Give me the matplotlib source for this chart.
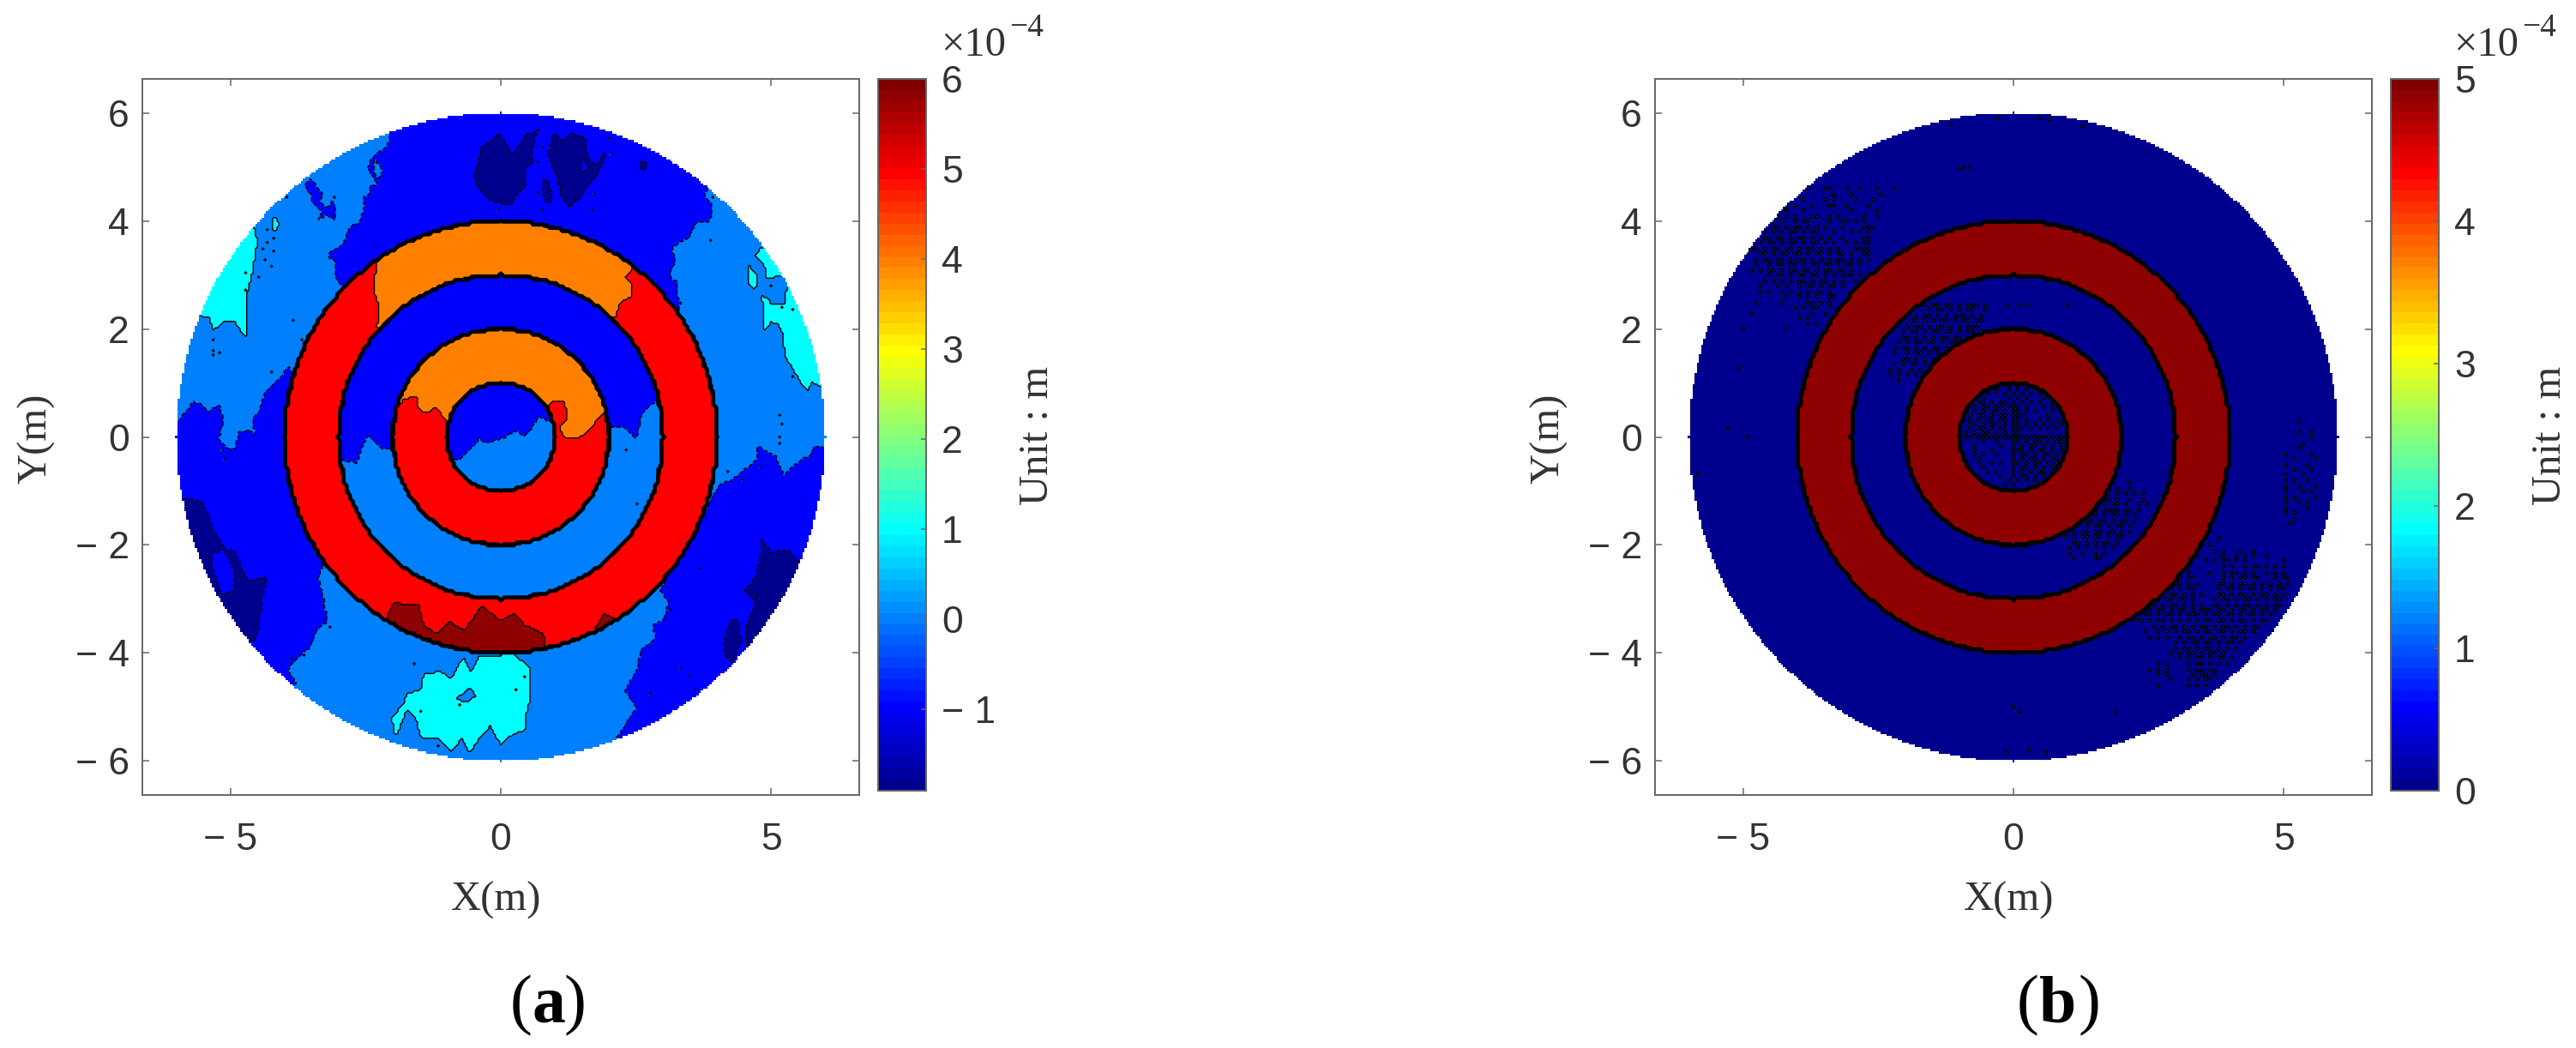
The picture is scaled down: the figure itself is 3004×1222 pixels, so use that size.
import numpy as np
import matplotlib
matplotlib.use('Agg')
import matplotlib.pyplot as plt
from matplotlib.colors import ListedColormap
from matplotlib.path import Path

W, H = 3004, 1222
dark = '#333333'
edge = '#666666'

# ticks
xticks = [-5, 0, 5]
yticks = [-6, -4, -2, 0, 2, 4, 6]
lim = 6.63
cbar_ticks_a = [-1, 0, 1, 2, 3, 4, 5, 6]
cbar_ticks_b = [0, 1, 2, 3, 4, 5]
clim_a = (-1.91, 6)
clim_b = (0, 5)

# levels of the flat zones, unit 1e-4 m
val_navy, val_blue, val_mid, val_cyan, val_orange, val_red, val_dark = -1.85, -1, 0, 1, 4, 5, 5.8
b_low, b_high = 0.05, 4.85

# panel (a), regions (x, y in metres)
top_blue = [(-2.04, 5.60), (-2.09, 5.41), (-2.30, 5.23), (-2.41, 5.15), (-2.46, 4.96), (-2.35, 4.80), (-2.27, 4.64),
            (-2.41, 4.64), (-2.43, 4.51), (-2.56, 4.43), (-2.51, 4.27), (-2.59, 4.06), (-2.62, 3.96), (-2.78, 3.90),
            (-2.86, 3.72), (-2.94, 3.53), (-3.12, 3.45), (-3.20, 3.35), (-3.07, 3.24), (-3.07, 3.03), (-2.99, 2.82),
            (-2.88, 2.77), (3.28, 2.34), (3.33, 2.50), (3.25, 2.66), (3.28, 2.85), (3.12, 2.98), (3.23, 3.27),
            (3.17, 3.51), (3.25, 3.56), (3.47, 3.69), (3.62, 3.98), (3.86, 3.96), (3.89, 4.11), (3.92, 4.33),
            (3.78, 4.43), (3.81, 4.59), (4.0, 7), (-2.2, 7)]
mid_hole = [(-2.33, 5.15), (-2.19, 4.93), (-2.27, 4.78), (-2.35, 4.93)]
blue_patch = [(-3.65, 4.67), (-3.52, 4.78), (-3.39, 4.62), (-3.30, 4.51), (-3.33, 4.35), (-3.20, 4.24), (-3.12, 4.38),
              (-3.04, 4.19), (-3.07, 4.01), (-3.23, 4.11), (-3.41, 3.98), (-3.30, 4.17), (-3.49, 4.35), (-3.52, 4.51)]
left_blue = [(-5.95, 0.31), (-5.79, 0.52), (-5.69, 0.65), (-5.55, 0.60), (-5.42, 0.46), (-5.21, 0.60), (-5.13, 0.31),
             (-5.18, 0.10), (-5.21, -0.04), (-5.05, -0.20), (-4.92, -0.22), (-4.88, -0.04), (-4.87, 0.10), (-4.68, 0.12),
             (-4.55, 0.07), (-4.60, 0.36), (-4.47, 0.49), (-4.36, 0.81), (-4.15, 1.02), (-4.02, 1.18), (-3.94, 1.31),
             (-3.86, 1.20), (-3.94, 0.81), (-3.29, -2.37), (-3.37, -2.63), (-3.27, -3.00), (-3.21, -3.42), (-3.41, -3.58),
             (-3.53, -3.90), (-3.85, -4.17), (-3.93, -4.32), (-3.77, -4.59), (-7, -4.59), (-7, 0.31)]
right_blue = [(6.03, -0.20), (5.80, -0.20), (5.72, -0.36), (5.56, -0.41), (5.24, -0.70), (5.08, -0.36), (4.76, -0.17),
              (4.72, -0.41), (4.53, -0.59), (4.29, -0.78), (4.05, -0.88), (2.94, -2.84), (3.10, -3.05), (3.02, -3.37),
              (2.82, -3.48), (2.86, -3.74), (2.58, -3.95), (2.54, -4.27), (2.30, -4.69), (2.50, -5.01), (2.14, -5.59),
              (2.14, -7), (7, -7), (7, -0.20)]
navy_top1 = [(-0.37, 5.36), (-0.13, 5.52), (-0.02, 5.62), (0.08, 5.46), (0.19, 5.25), (0.29, 5.31), (0.45, 5.60),
             (0.61, 5.62), (0.71, 5.73), (0.62, 5.55), (0.58, 5.25), (0.61, 5.09), (0.45, 4.96), (0.45, 4.62), (0.29, 4.46),
             (0.19, 4.30), (-0.08, 4.33), (-0.24, 4.41), (-0.45, 4.67), (-0.50, 4.83), (-0.42, 5.09)]
navy_top2 = [(0.87, 5.25), (0.98, 5.65), (1.14, 5.49), (1.30, 5.62), (1.56, 5.54), (1.61, 5.17), (1.75, 5.01),
             (1.96, 5.33), (1.90, 5.12), (1.77, 4.83), (1.59, 4.64), (1.46, 4.41), (1.27, 4.27), (1.11, 4.46),
             (1.06, 4.78), (0.95, 4.99)]
navy_top3 = [(0.79, 4.78), (0.90, 4.72), (0.95, 4.35), (0.85, 4.33), (0.77, 4.57)]
navy_top4 = [(2.57, 5.12), (2.70, 5.09), (2.67, 4.93), (2.59, 4.96)]
navy_left = [(-5.79, -1.15), (-5.55, -1.18), (-5.40, -1.47), (-5.32, -1.73), (-5.24, -1.84), (-5.08, -2.10), (-4.92, -2.10),
             (-4.80, -2.42), (-4.68, -2.68), (-4.32, -2.58), (-4.40, -2.95), (-4.48, -3.58), (-4.56, -3.79), (-6.5, -3.79),
             (-6.5, -1.15)]
navy_right = [(4.84, -1.92), (5.00, -2.13), (5.32, -2.10), (5.56, -2.34), (7, -2.34), (7, -3.9), (4.56, -3.9), (4.56, -3.48),
              (4.72, -3.05), (4.52, -2.84), (4.72, -2.58), (4.80, -2.21)]
navy_right2 = [(4.29, -3.35), (4.41, -3.42), (4.45, -3.79), (4.29, -4.19), (4.13, -4.01), (4.17, -3.58)]
blue_pockets = [[(1.51, 5.15), (1.64, 4.99), (1.51, 4.88)],
                [(-5.36, -2.15), (-5.12, -2.10), (-4.96, -2.42), (-4.92, -2.84), (-5.16, -2.92), (-5.32, -2.47)]]
cyan_ul = [(-4.55, 3.85), (-4.50, 3.61), (-4.55, 3.34), (-4.60, 3.03), (-4.68, 2.71), (-4.72, 2.45), (-4.68, 1.97),
           (-4.72, 1.84), (-4.81, 1.97), (-4.92, 2.13), (-5.13, 2.13), (-5.32, 1.97), (-5.40, 2.21), (-5.53, 2.24),
           (-7, 2.24), (-7, 3.85)]
cyan_ul2 = [(-4.18, 4.11), (-4.10, 3.93), (-4.18, 3.77), (-4.23, 3.88), (-4.22, 4.04)]
cyan_ra = [(4.82, 3.51), (4.71, 3.36), (4.87, 3.19), (4.92, 2.92), (5.19, 3.0), (7, 3.0), (7, 3.61), (5.21, 3.61)]
cyan_rc = [(4.58, 3.22), (4.63, 3.11), (4.76, 2.98), (4.71, 2.71), (4.58, 2.85)]
cyan_rb = [(4.82, 2.61), (4.95, 2.58), (5.00, 2.45), (5.24, 2.45), (5.29, 2.77), (7, 2.77), (7, 0.94), (5.90, 0.94),
           (5.74, 1.02), (5.69, 0.86), (5.56, 0.99), (5.42, 1.23), (5.26, 1.50), (5.21, 1.92), (5.13, 2.08), (5.0, 2.13),
           (4.84, 1.92), (4.87, 2.29)]
cyan_bottom = [(-0.40, -4.06), (0.24, -4.03), (0.52, -4.24), (0.56, -4.53), (0.52, -4.96), (0.44, -5.22), (0.48, -5.41),
               (0.16, -5.54), (0.0, -5.70), (-0.20, -5.36), (-0.36, -5.54), (-0.59, -5.86), (-0.71, -5.57), (-0.91, -5.83),
               (-1.15, -5.59), (-1.47, -5.57), (-1.59, -5.17), (-1.74, -5.06), (-1.94, -5.57), (-2.02, -5.22), (-1.78, -4.90),
               (-1.74, -4.75), (-1.47, -4.67), (-1.43, -4.38), (-1.11, -4.35), (-0.91, -4.48), (-0.79, -4.22), (-0.67, -4.11),
               (-0.55, -4.38)]
cyan_hole = [(-0.55, -4.64), (-0.47, -4.80), (-0.63, -4.91), (-0.83, -4.85)]
centre_blue = [(-0.75, -0.41), (-0.55, -0.20), (-0.40, -0.04), (-0.28, -0.12), (0.08, -0.01), (0.13, 0.04), (0.29, 0.12),
               (0.42, 0.01), (0.58, 0.17), (0.72, 0.38), (0.85, 0.30), (1.5, 0.30), (1.5, 1.5), (-1.5, 1.5), (-1.5, -0.41)]
orange_inner = [(-1.85, 0.60), (-1.80, 0.70), (-1.56, 0.75), (-1.51, 0.49), (-1.35, 0.44), (-1.22, 0.57), (-1.0, 0.30),
                (0.90, 0.60), (0.95, 0.67), (1.19, 0.65), (1.22, 0.33), (1.09, 0.17), (1.19, -0.04), (1.32, -0.01), (1.43, -0.04),
                (1.67, 0.17), (1.77, 0.30), (1.93, 0.46), (2.5, 0.8), (2.5, 2.5), (-2.5, 2.5), (-2.5, 0.6)]
ring_blue = [(-2.93, -0.43), (-2.66, -0.49), (-2.58, -0.22), (-2.46, 0.04), (-2.22, -0.2), (-1.98, -0.22), (2.01, 0.17),
             (2.25, 0.20), (2.35, 0.12), (2.51, -0.04), (2.62, 0.46), (2.86, 0.65), (3.5, 1), (3.5, 3.5), (-3.5, 3.5),
             (-3.5, -0.43)]
orange_outer = [(-2.30, 3.22), (-2.35, 2.71), (-2.25, 2.40), (-2.27, 2.13), (-2.33, 2.0), (2.12, 2.21), (2.22, 2.50),
                (2.41, 2.60), (2.41, 2.85), (2.30, 2.98), (2.43, 3.11), (3.4, 5), (-3.4, 5)]
dark_red = [(-2.10, -3.32), (-1.98, -3.05), (-1.74, -3.11), (-1.51, -3.11), (-1.43, -3.48), (-1.19, -3.64), (-0.95, -3.42),
            (-0.67, -3.58), (-0.36, -3.13), (0.0, -3.40), (0.24, -3.27), (0.44, -3.48), (0.79, -3.64), (0.83, -3.90),
            (0.83, -4.5), (-2.10, -4.5)]
dark_red2 = [(1.71, -3.58), (1.91, -3.27), (2.11, -3.37), (2.2, -3.6)]
specks_a = [(-4.31, 3.85), (-4.22, 3.69), (-4.31, 3.61), (-4.42, 3.48), (-4.21, 3.43), (-4.35, 3.27), (-4.26, 3.17),
            (-4.73, 3.06), (-4.50, 2.95), (-4.72, 2.74), (-3.83, 2.18), (-3.69, 1.81), (-4.25, 1.19), (-3.94, 4.46),
            (-3.07, 4.46), (-5.34, 1.79), (-5.33, 1.6), (-5.31, 1.52), (-5.21, 1.56), (3.89, 3.66), (3.94, 4.46),
            (5.16, 0.41), (5.21, 0.25), (5.16, -0.01), (5.42, 1.12), (5.2, 2.4), (5.4, 2.37), (5.0, 2.79), (0.77, 4.22),
            (-0.03, 4.2), (1.69, 4.2), (1.72, 4.51), (0.69, 4.51), (0.69, 5.07), (0.77, 5.35), (0.93, 5.35), (1.03, 5.33),
            (2.01, 5.51), (2.04, 5.24), (-5.16, -0.25), (-5.12, -0.41), (5.16, -0.12), (4.80, -0.54), (4.48, -0.78),
            (4.21, -0.62), (2.54, -1.25), (2.34, -0.25), (3.10, -2.79), (3.69, -2.45), (3.14, -3.21), (-3.17, -3.5),
            (-1.59, -4.19), (3.33, -4.27), (3.49, -4.46), (3.61, -4.69), (2.78, -4.75), (-3.89, -4.11), (-3.65, -4.06),
            (4.72, -2.92), (1.23, -0.2), (1.27, -0.41), (-1.47, -5.09), (-0.75, -4.96), (0.28, -4.67), (0.44, -4.43),
            (-1.15, -5.70)]

# panel (b), where the small black specks sit, '#' = speck. x0, y0, dx, dy given for each block
stipple_ul = ["...............#...##...#..#...#...#", ".............#.......#...#......#..",
              "...........#..#....#.#....#...#....", "..........#.#...#...##..#....#.....",
              ".........##...#..........#.....#...", "........#.#.#...##..#.#.....#..#...",
              "......##.#..#.##....#..##.#.#......", ".....#.##.#.##.#.#.#...#....###....",
              "....##.#.#.##.#.##...#...#.#.#.....", "...#.##.##.#.##.#.#.#..#....##.....",
              "..#.#.##.#.##.#.##.#.#..#.#.##.....", "..##.#.##.##.#.##.#.#.#...####.....",
              ".#..##.#.##.##.#.##.#.##.#..##.....", "...#.##.##.#.##.#.#.#.##.#.#.#.....",
              "...#..#.##.##.#.##.##.#.##.#.......", "..#.#.##.#.##.##.#.##.##.#.........",
              "......#.##.#.##.##.#.#.###.#.......", ".....#.#.#.#.##.#.##.#.#..#........",
              "....#...#.#..#.##.#.##.#...........", "....#.#..#.#.#.#.##.#..............",
              "..........#..#.#.#..##.............", "...#.....#.....##.#.#..............",
              "............#.#.##..#..............", "..#.............#..#...............",
              ".............#.#...................", "...............#.#.................",
              "#.........#........................"]
stipple_mid = ["..............#.##.##.#.###.#....#..#", "...............#.##.#.#.##..#.......",
               "............#.##.#.#.###.#.#........", "...........##.#.#.##.#.##.##........",
               "..........#.##.#.##.#.#.###.........", ".........#.##.#.##.##.#.##.#........",
               ".........##.#.#.#.##.##.#.#.........", "........#.#.##.##.#.##.#.#..........",
               ".......#.##.#.#.##.#.###............", ".......#..#.##.#.#.#.##.............",
               ".........##.#.#.#.##.#..............", ".......#.#.##.#.#.#.#...............",
               "......#.#..#.#..#.##................", "......#.#.#.#.#..#.#................",
               "........#..............#............"]
stipple_centre = ["..........##.#...........", "........#..#.#.#.........", "......#.#.#.#.#.#.#......",
                  ".....#.....#.#.#...#.#...", "....##.#.##.#.#.#.#..#...", "...#.##.##.###.#...#.#...",
                  "...#.#.##.#.##.#.#...#...", "..#.##.#.##.###.....#....", "..#.#.##.##.##.#..#.#.#..",
                  "..##.#.##.#.##.#.#.#.#.#.", "..#.##.#.##.###.#.#.#.#..", ".#.#.##.#.#.##...........",
                  ".#########################", ".....#..#...##.#.##.#.##..", "...#.....#..#.#.##.#.#.#..",
                  "...#...#....###.#.##.#.#..", "...#.#..#...#.##.#.##.#...", "....#.......#.#.##.#.##...",
                  "....#..#.#..##.#.##.#.#...", ".....#......#.##.#.#.##...", "......#.#...#.#.#.##.#....",
                  ".........#..#.##.#.#......", "...........#.#.#.#........", "..........#.#............."]
stipple_lr_in = ["...........#...#....", "..........#.#..#....", "........#.#.#.#.#.#.", ".......#.##.#..#..#.",
                 ".....#.#.#.##.#..#.#", "...#..##.####.##.#..", "....#.##.#.##.#.#...", "...#.##.##.#.##.#...",
                 "..##.#.##.#.##.#....", "..#.##.##.##.#.#....", "#.#.##.##.#.##......", "..##.#.#.##.#.......",
                 ".#.#.#.#.#.#........", ".#..#..#.#..........", "..#....##..........."]
stipple_lr_out = ["................#...#................", "................#.#..................",
                  "...................#.#...#..#........", "...............#.....#..#.#.#..#.....",
                  "............#....#.#.##.#.#........#.", "..........##.#.......#.#..#.##.#.#.#.",
                  "..........##.#....#..#.##.#.#..#.#.#.", ".........#.#.##......#.#.##.##...#.##",
                  "........#.##.#.#....##.#.##.#.#.#.#.#", "........##.#.##.....#.##.#.##.#.#.##.",
                  ".......#.##.#.#.#...##.#.##.#.##.#.#.", "......#.##.##.#....#.##.#.##.#.#.##..",
                  "....##.#.##.#.#.#..##.#.#.##.#.#.##..", ".##.#.##.#.##.#.###.##.#.##.#.##.#...",
                  ".#.##.#.##.#.###.#.##.##.#.##.#.#....", ".##.#.##.#.#.#.#.##.##.#.##.#.##.....",
                  ".....#.#.##.#.#.##.#.##.#.#.##.......", "...#..#.#.#.##.#.##.##.#.##.#........",
                  "....#.#.#..#.##.#.##.#.##.#..........", "..........#.#.##.##.#.##.#...........",
                  "..........#.##.#.##.#.#.#............", ".........#.#.##.#.##.#...............",
                  "...........#.#.##.#.##.#.............", "......#.#....#.##.#.#.#..............",
                  "....#.#.#....#.##.##.................", "......#.#.....#.##.#.................",
                  ".........#...#.#.##..................", "......#......#.#.#..................."]
stipple_right = ["...#......", ".........", "...#..#...", "......#...", "....#.....", "...#......", "#.....#...",
                 "..#....#..", "#....#....", "..#...#...", "#...#.....", "#.#..#....", "#..#...#..", "#...#.#...",
                 "#.#....#..", "#..#.#....", "#....#....", "#.#.......", "..#.......", ".#........"]
specks_b = [(-0.3, 5.9), (0.5, 5.9), (0.7, 5.88), (-1.15, 5.8), (1.3, 5.75), (-0.9, 5.0), (-0.8, 5.0), (-1.0, 4.95),
            (0.1, -5.1), (0.0, -5.0), (-0.1, -5.85), (0.6, -5.85), (0.3, -5.8), (-5.1, 1.3), (-5.3, 0.15), (-4.9, 0.0),
            (-5.85, -0.7), (-0.2, 3.5), (1.9, -5.1), (0.3, 2.45), (1.0, 2.45)]


def jet64():
    # same jet table as MATLAB, 64 bands
    t = np.arange(1, 65) / 64
    return ListedColormap(np.clip(1.5 - np.abs(4 * t[:, None] - [3, 2, 1]), 0, 1))


def axes_px(l, t, r, b):
    return fig.add_axes([l / W, 1 - b / H, (r - l) / W, (b - t) / H])


def put(x, y, s, **kw):
    fig.text(x / W, 1 - y / H, s, **kw)


def inside(poly):
    return Path(poly).contains_points(pts).reshape(X.shape)


def stipple(Z, rows, x0, y0, dx, dy):
    for i, row in enumerate(rows):
        for j, c in enumerate(row):
            if c == '#':
                speck(Z, x0 + j * dx, y0 - i * dy)


def speck(Z, x, y):
    i = np.abs(ys - y).argmin()
    j = np.abs(xs - x).argmin()
    if Z[i, j] < 2:
        Z[i, j] += 1


# grid
xs = np.arange(-155, 156) * 0.04
ys = xs.copy()
X, Y = np.meshgrid(xs, ys)
R = np.hypot(X, Y)
pts = np.c_[X.ravel(), Y.ravel()]
outside = R > 6.0

# panel a field
Za = np.full(X.shape, float(val_mid))
for p in [top_blue, blue_patch, left_blue, right_blue]:
    Za[inside(p)] = val_blue
Za[inside(mid_hole)] = val_mid
for p in [navy_top1, navy_top2, navy_top3, navy_top4, navy_left, navy_right, navy_right2]:
    Za[inside(p)] = val_navy
for p in blue_pockets:
    Za[inside(p)] = val_blue
for p in [cyan_ul, cyan_ul2, cyan_ra, cyan_rb, cyan_rc, cyan_bottom]:
    Za[inside(p)] = val_cyan
Za[inside(cyan_hole)] = val_mid
z3 = np.full(X.shape, float(val_red))
z3[inside(orange_outer)] = val_orange
z3[inside(dark_red)] = val_dark
z3[inside(dark_red2)] = val_dark
z2 = np.full(X.shape, float(val_mid))
z2[inside(ring_blue)] = val_blue
z1 = np.full(X.shape, float(val_red))
z1[inside(orange_inner)] = val_orange
z0 = np.full(X.shape, float(val_mid))
z0[inside(centre_blue)] = val_blue
Za[R <= 4] = z3[R <= 4]
Za[R <= 3] = z2[R <= 3]
Za[R <= 2] = z1[R <= 2]
Za[R <= 1] = z0[R <= 1]
for sx, sy in specks_a:
    speck(Za, sx, sy)

# panel b field
Zb = np.full(X.shape, b_low)
Zb[(R > 3) & (R <= 4)] = b_high
Zb[(R > 1) & (R <= 2)] = b_high
stipple(Zb, stipple_ul, -5.0, 4.6, 0.08, 0.1)
stipple(Zb, stipple_mid, -2.75, 2.45, 0.08, 0.1)
stipple(Zb, stipple_centre, -0.96, 0.96, 0.08, 0.08)
stipple(Zb, stipple_lr_in, 0.95, -0.85, 0.08, 0.1)
stipple(Zb, stipple_lr_out, 2.2, -1.9, 0.08, 0.1)
stipple(Zb, stipple_right, 5.05, 0.3, 0.08, 0.1)
for sx, sy in specks_b:
    speck(Zb, sx, sy)

# finer ring field, for the heavy circles
xc = np.arange(-103, 104) * 0.06
Xc, Yc = np.meshgrid(xc, xc)
Rc = np.hypot(Xc, Yc)
rings = (((Rc > 1) & (Rc <= 2)) | ((Rc > 3) & (Rc <= 4))).astype(float)

fig = plt.figure(figsize=(W / 100, H / 100), dpi=100)
cmap = jet64()
ser = dict(family='Liberation Serif', color=dark)

panels = [(0, Za, clim_a, [-1.5, -0.5, 0.5, 1.5, 2.5, 3.5, 4.5, 5.5], cbar_ticks_a, 1.0),
          (1764, Zb, clim_b, [0.3, 1.5, 2.5, 3.5, 4.5], cbar_ticks_b, 1.2)]
for off, Z, clim, levels, cticks, lw in panels:
    ax = axes_px(166 + off, 92, 1002 + off, 927)
    Zm = np.ma.masked_where(outside, Z)
    pm = ax.pcolormesh(X, Y, Zm, cmap=cmap, vmin=clim[0], vmax=clim[1], shading='nearest', rasterized=True)
    ax.contour(X, Y, Zm, levels=levels, colors='k', linewidths=lw)
    ax.contour(Xc, Yc, rings, levels=[0.5], colors='k', linewidths=3.2)
    ax.set_xlim(-lim, lim)
    ax.set_ylim(-lim, lim)
    ax.set_xticks(xticks)
    ax.set_yticks(yticks)
    ax.set_xticklabels(['\u2212 5', '0', '5'], fontfamily='Liberation Sans', fontsize=32, color=dark)
    ax.set_yticklabels([f'\u2212 {-v}' if v < 0 else str(v) for v in yticks],
                       fontfamily='Liberation Sans', fontsize=32, color=dark)
    ax.tick_params(direction='in', top=True, right=True, length=6, width=1.1, color=edge)
    ax.tick_params(axis='x', pad=23)
    ax.tick_params(axis='y', pad=11)
    for s in ax.spines.values():
        s.set_linewidth(1.4)
        s.set_color(edge)

    cax = axes_px(1024 + off, 92, 1080 + off, 922)
    cb = fig.colorbar(pm, cax=cax)
    cb.set_ticks(cticks)
    cb.set_ticklabels([f'\u2212 {-v}' if v < 0 else str(v) for v in cticks],
                      fontfamily='Liberation Sans', fontsize=32, color=dark)
    cax.tick_params(direction='in', length=4, width=1.1, color=edge, pad=13)
    cb.outline.set_linewidth(1.4)
    cb.outline.set_edgecolor(edge)

    put(579 + off, 1050, 'X(m)', fontsize=35, ha='center', va='center', **ser)
    put(42 + off, 511, 'Y(m)', fontsize=35, rotation=90, ha='center', va='center', **ser)
    put(1210 + off, 508, 'Unit : m', fontsize=35, rotation=90, ha='center', va='center', **ser)
    put(1097 + off, 65, '\u00d710', fontsize=35, ha='left', va='baseline', **ser)
    put(1177 + off, 42, '\u22124', fontsize=27, ha='left', va='baseline', **ser)

# panel letters, parentheses are not bold
for left, cx, right, letter in [(595, 640, 683, 'a'), (2352, 2400, 2449, 'b')]:
    put(left, 1191, '(', family='Liberation Serif', fontsize=56, color='k', ha='left', va='baseline')
    put(cx, 1191, letter, family='Liberation Serif', fontweight='bold', fontsize=56, color='k', ha='center', va='baseline')
    put(right, 1191, ')', family='Liberation Serif', fontsize=56, color='k', ha='right', va='baseline')

fig.savefig('out.png', dpi=100)
